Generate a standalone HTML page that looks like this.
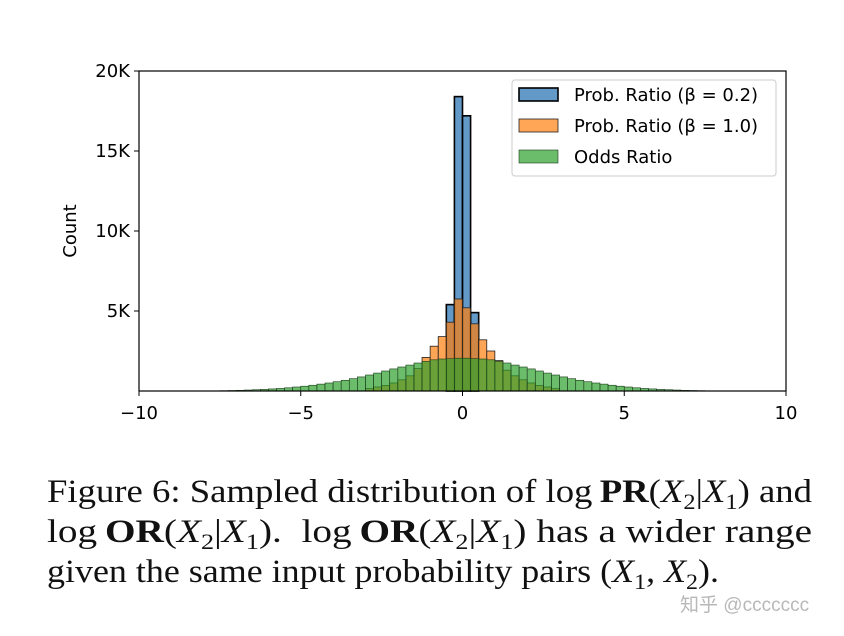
<!DOCTYPE html>
<html><head><meta charset="utf-8">
<style>
body{margin:0;background:#fff;width:844px;height:636px;overflow:hidden;position:relative;font-family:"Liberation Serif",serif;}
#chart{position:absolute;left:0;top:0;}
.cap{position:absolute;left:47px;font-size:33px;line-height:40px;color:#111;white-space:nowrap;transform-origin:0 0;}
.cap i{font-style:italic}
.cap sub{font-size:22px;vertical-align:-7px;line-height:0}
#wm{position:absolute;left:680px;top:590px;font-family:"Liberation Sans","Noto Sans CJK SC",sans-serif;font-size:19px;color:#b8b8b8;}
</style></head><body>
<svg id="chart" width="844" height="460" font-family="DejaVu Sans, sans-serif"></svg>
<div class="cap" id="c1" data-w="765" style="top:472px">Figure 6: Sampled distribution of log&#8201;<b>PR</b>(<i>X</i><sub>2</sub>|<i>X</i><sub>1</sub>) and</div>
<div class="cap" id="c2" data-w="765" style="top:512px">log&#8201;<b>OR</b>(<i>X</i><sub>2</sub>|<i>X</i><sub>1</sub>).&nbsp; log&#8201;<b>OR</b>(<i>X</i><sub>2</sub>|<i>X</i><sub>1</sub>) has a wider range</div>
<div class="cap" id="c3" data-w="672" style="top:552px">given the same input probability pairs (<i>X</i><sub>1</sub>, <i>X</i><sub>2</sub>).</div>
<div id="wm">知乎 @ccccccc</div>
<script>
const binWidth = 0.25;
const greenStart = -8;
const greenValues = [0.005,0.01,0.02,0.03,0.04,0.06,0.08,0.1,0.13,0.16,0.2,0.25,0.3,0.36,0.43,0.5,0.58,0.67,0.77,0.88,1.0,1.12,1.25,1.38,1.5,1.62,1.75,1.85,1.95,2.0,2.02,2.05,
2.05,2.02,2.0,1.95,1.85,1.75,1.62,1.5,1.38,1.25,1.12,1.0,0.88,0.77,0.67,0.58,0.5,0.43,0.36,0.3,0.25,0.2,0.16,0.13,0.1,0.08,0.06,0.04,0.03,0.02,0.01,0.005];
const orangeStart = -3;
const orangeValues = [0.15,0.25,0.35,0.5,0.7,0.95,1.4,2.1,2.8,3.4,4.3,5.75,5.2,4.2,3.2,2.5,1.9,1.3,0.95,0.7,0.5,0.35,0.25,0.15];
const blueStart = -0.5;
const blueValues = [5.4,18.4,17.2,4.9];
const xTicks = [-10,-5,0,5,10];
const yTicks = [5,10,15,20];
const yTickLabels = ["5K","10K","15K","20K"];
const legendLabels = ["Prob. Ratio (β = 0.2)","Prob. Ratio (β = 1.0)","Odds Ratio"];

const L=139,R=786,T=71,B=391;
const xs=v=>L+(v+10)/20*(R-L);
const ys=v=>B-v/20*(B-T);
const svg=document.getElementById('chart');
const NS='http://www.w3.org/2000/svg';
function mk(tag,attrs,parent){const e=document.createElementNS(NS,tag);for(const k in attrs)e.setAttribute(k,attrs[k]);(parent||svg).appendChild(e);return e;}

function drawSeries(start,vals,fill,op,stroke,sw,name){
  const g=mk('g',{});
  
  
  vals.forEach((v,i)=>{
    const x0=xs(start+i*binWidth),x1=xs(start+(i+1)*binWidth);
    const r=mk('rect',{x:x0,y:ys(v),width:x1-x0,height:ys(0)-ys(v),fill:fill,'fill-opacity':op,stroke:stroke,'stroke-width':sw},g);
    
    
  });
}
drawSeries(blueStart,blueValues,'#2f77b4',0.75,'#000',1.6,'blue');
drawSeries(orangeStart,orangeValues,'#ff7f0e',0.7,'#222',0.8,'orange');
drawSeries(greenStart,greenValues,'#2ca02c',0.7,'#1a3a1a',0.6,'green');

const frame=mk('rect',{x:L,y:T,width:R-L,height:B-T,fill:'none',stroke:'#000','stroke-width':1.2});


xTicks.forEach(t=>{
  mk('line',{x1:xs(t),x2:xs(t),y1:B,y2:B+5,stroke:'#000','stroke-width':1});
  const tx=mk('text',{x:xs(t),y:B+28,'text-anchor':'middle','font-size':18,fill:'#000'});
  tx.textContent=t<0?'\u2212'+(-t):String(t);
  
  
});
yTicks.forEach((t,i)=>{
  mk('line',{x1:L-5,x2:L,y1:ys(t),y2:ys(t),stroke:'#000','stroke-width':1});
  const tx=mk('text',{x:L-9,y:ys(t)+6,'text-anchor':'end','font-size':18,fill:'#000'});
  tx.textContent=yTickLabels[i];
  
  
});
const yt=mk('text',{x:0,y:0,transform:'translate(76,231) rotate(-90)','text-anchor':'middle','font-size':18,fill:'#000'});
yt.textContent='Count';



const lg=mk('g',{});


mk('rect',{x:512,y:80,width:264,height:96,rx:3,fill:'#fff','fill-opacity':0.85,stroke:'#ccc','stroke-width':1},lg);
const lf=[['#2f77b4',0.75,'#000',1.6],['#ff7f0e',0.7,'#222',0.8],['#2ca02c',0.7,'#1a3a1a',0.6]];
legendLabels.forEach((lab,i)=>{
  const y=88+i*31;
  const e=mk('g',{},lg);
  
  
  mk('rect',{x:519,y:y,width:39,height:13,fill:lf[i][0],'fill-opacity':lf[i][1],stroke:lf[i][2],'stroke-width':lf[i][3]},e);
  const t=mk('text',{x:574,y:y+13,'font-size':18,fill:'#000'},e);
  t.textContent=lab;
});

['c1','c2','c3'].forEach(id=>{
  const el=document.getElementById(id);
  const w=el.getBoundingClientRect().width;
  el.style.transform='scaleX('+(parseFloat(el.dataset.w)/w)+')';
});
</script>
</body></html>
